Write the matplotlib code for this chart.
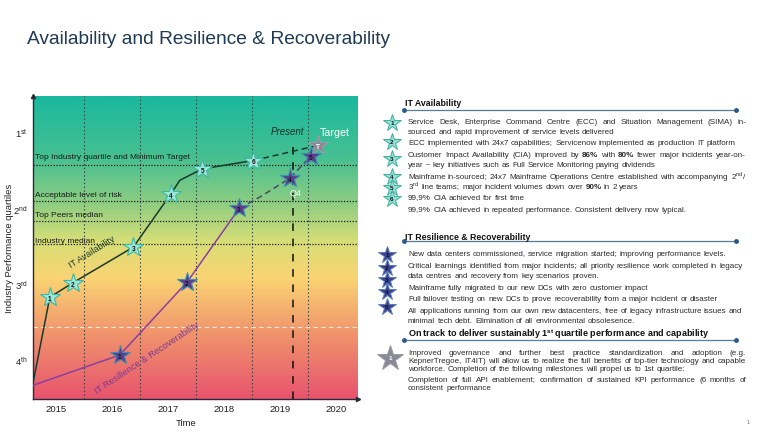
import matplotlib
matplotlib.use("Agg")
import matplotlib.pyplot as plt
import numpy as np
from matplotlib.colors import LinearSegmentedColormap
from matplotlib.backends.backend_agg import get_hinting_flag

plt.rcParams['font.family'] = ['Liberation Sans', 'DejaVu Sans']
plt.rcParams['mathtext.fontset'] = 'custom'
plt.rcParams['mathtext.rm'] = 'Liberation Sans'
plt.rcParams['mathtext.bf'] = 'Liberation Sans:bold'

W, H = 768, 432

# ---- chart data (x in years, y in quartile units: 1 = 4th ... 4 = 1st)
years = [2015, 2016, 2017, 2018, 2019, 2020]
quartile_pos = [4, 3, 2, 1]
quartile_labels = ['1$^{\\mathrm{st}}$', '2$^{\\mathrm{nd}}$', '3$^{\\mathrm{rd}}$', '4$^{\\mathrm{th}}$']
mid_year_lines = [2015.5, 2016.5, 2017.5, 2018.5, 2019.5]
present_x = 2019.23

levels = [3.58, 3.105, 2.84, 2.54]
level_labels = ['Top Industry quartile and Minimum Target', 'Acceptable level of risk',
                'Top Peers median', 'Industry median']
level_label_y = [3.68, 3.18, 2.91, 2.58]
white_line_y = 1.45

avail_path_x = [2014.59, 2014.89, 2015.30, 2016.38, 2017.05, 2017.21, 2017.61, 2018.52]
avail_path_y = [0.71, 1.84, 2.03, 2.50, 3.20, 3.38, 3.53, 3.64]
avail_dash_x = [2018.52, 2019.68]
avail_dash_y = [3.64, 3.84]
avail_star_x = [2014.89, 2015.30, 2016.38, 2017.05, 2017.61, 2018.52]
avail_star_y = [1.84, 2.03, 2.50, 3.20, 3.53, 3.64]

res_path_x = [2014.59, 2016.14, 2017.34, 2018.27]
res_path_y = [0.68, 1.08, 2.04, 3.01]
res_dash_x = [2018.27, 2018.64, 2019.18, 2019.55]
res_dash_y = [3.01, 3.16, 3.41, 3.70]
res_star_x = [2016.14, 2017.34, 2018.27, 2019.18, 2019.55]
res_star_y = [1.08, 2.04, 3.01, 3.41, 3.70]

target_x, target_y = 2019.68, 3.84

# ---- panel text (pixel rows)
avail_items = [
    [("Service Desk, Enterprise Command Centre (ECC) and Situation Management (SIMA) in-", 121, True),
     ("sourced and rapid improvement of service levels delivered", 131, False)],
    [("ECC implemented with 24x7 capabilities; Servicenow implemented as production IT platform", 142, False)],
    [("Customer Impact Availability (CIA) improved by **86%** with **80%** fewer major incidents year-on-", 154, True),
     ("year \u2013 key initiatives such as Full Service Monitoring paying dividends", 164, False)],
    [("Mainframe in-sourced; 24x7 Mainframe Operations Centre established with accompanying 2$^{\\mathrm{nd}}$/", 176, True),
     ("3$^{\\mathrm{rd}}$ line teams; major incident volumes down over **90%** in 2 years", 186, False)],
    [("99,9% CIA achieved for first time", 197, False)],
    [("99,9% CIA achieved in repeated performance. Consistent delivery now typical.", 209, False)],
]
avail_icon_y = [123, 142, 159, 177, 188, 199]

res_items = [
    [("New data centers commissioned, service migration started; improving performance levels.", 253, False)],
    [("Critical learnings identified from major incidents; all priority resilience work completed in legacy", 265, False),
     ("data centres and recovery from key scenarios proven.", 275, False)],
    [("Mainframe fully migrated to our new DCs with zero customer impact", 287, False)],
    [("Full failover testing on new DCs to prove recoverability from a major incident or disaster", 298, False)],
    [("All applications running from our own new datacenters, free of legacy infrastructure  issues and", 310, False),
     ("minimal tech debt. Elimination of all environmental obsolesence.", 320, False)],
]
res_icon_y = [255, 268, 280, 292, 307]

track_lines = [
    ("Improved governance and further best practice standardization and adoption (e.g.", 352, True),
    ("KepnerTregoe, IT4IT) will allow us to realize the full benefits of top-tier technology and capable", 360, True),
    ("workforce. Completion of the following milestones will propel us to 1st quartile:", 368, False),
    ("Completion of full API enablement; confirmation of sustained KPI performance (6 months of", 379, True),
    ("consistent performance", 387, False),
]

BODY = 5.75


def fx(px):
    return px / W


def fy(py):
    return 1 - py / H


fig = plt.figure(figsize=(W / 100, H / 100), dpi=100)
fig.patch.set_facecolor('white')
renderer = fig.canvas.get_renderer()

fig.text(fx(27), fy(40), 'Availability and Resilience & Recoverability', fontsize=13.8,
         color='#1F3A56', va='center', ha='left')

# ---- chart
ax = fig.add_axes([fx(33), fy(399), fx(358) - fx(33), fy(96) - fy(399)])
x0, x1, y0, y1 = 2014.59, 2020.39, 0.5, 4.49
ax.set_xlim(x0, x1)
ax.set_ylim(y0, y1)

stops = [(0.0, (232, 84, 110)), (0.22, (240, 150, 108)), (0.40, (250, 212, 115)),
         (0.52, (215, 222, 118)), (0.65, (140, 205, 130)), (0.80, (70, 192, 145)),
         (1.0, (26, 184, 158))]
cmap = LinearSegmentedColormap.from_list('bg', [(p, tuple(c / 255 for c in rgb)) for p, rgb in stops])
ax.imshow(np.linspace(0, 1, 300).reshape(-1, 1), cmap=cmap, origin='lower', aspect='auto',
          extent=(x0, x1, y0, y1), zorder=0)

for xv in mid_year_lines:
    ax.axvline(xv, color='#2f3f3f', lw=0.8, ls=(0, (1.2, 2.2)), zorder=1)
for yv in levels:
    ax.axhline(yv, color='#1a1a1a', lw=0.9, ls=(0, (1, 1.3)), zorder=1)
ax.axhline(white_line_y, color='white', lw=0.8, ls=(0, (4, 3)), alpha=0.8, zorder=1)
ax.plot([present_x, present_x], [y0, 3.9], color='#111111', lw=1.1, ls=(0, (5, 5)), zorder=2)

for lab, yv in zip(level_labels, level_label_y):
    ax.text(2014.625, yv, lab, fontsize=6.0, color='#1a1a1a', va='center', ha='left', zorder=3)

ax.plot(avail_path_x, avail_path_y, color='#173a2c', lw=1.1, zorder=3)
ax.plot(avail_dash_x, avail_dash_y, color='#173a2c', lw=1.1, ls=(0, (4, 2.5)), zorder=3)
ax.plot(res_path_x, res_path_y, color='#8b3fa0', lw=1.1, zorder=3)
ax.plot(res_dash_x, res_dash_y, color='#4a4a66', lw=1.1, ls=(0, (4, 2.5)), zorder=3)

ax.plot(avail_star_x, avail_star_y, ls='none', marker='*', ms=14.5, mfc='#9ee8da', mec='#3fb8a6',
        mew=0.8, zorder=4)
ax.plot(res_star_x, res_star_y, ls='none', marker='*', ms=14.5, mfc='#5a3f8e', mec='#3f8fb0',
        mew=0.8, zorder=4)
ax.plot([target_x], [target_y], ls='none', marker='*', ms=15, mfc='#8c8a98', mec='#a09cb0',
        mew=0.6, zorder=4)
for i, (xv, yv) in enumerate(zip(avail_star_x, avail_star_y)):
    ax.text(xv, yv - 0.03, str(i + 1), fontsize=4.8, fontweight='bold', color='#1a1a1a',
            ha='center', va='center', zorder=5)
for i, (xv, yv) in enumerate(zip(res_star_x, res_star_y)):
    ax.text(xv, yv - 0.03, str(i + 1), fontsize=4.8, fontweight='bold', color='#1a1a1a',
            ha='center', va='center', zorder=5)
ax.text(target_x, target_y - 0.03, 'T', fontsize=4.8, fontweight='bold', color='white',
        ha='center', va='center', zorder=5)

ax.text(2015.64, 2.43, 'IT Availability', fontsize=6.5, color='#173a2c', rotation=32,
        ha='center', va='center', zorder=3)
ax.text(2016.63, 1.04, 'IT Resilience & Recoverability', fontsize=6.7, color='#7b3a96',
        rotation=33.5, ha='center', va='center', zorder=3)
ax.text(2019.125, 4.01, 'Present', fontsize=7, style='italic', color='#17332e',
        ha='center', va='center', zorder=3)
ax.text(2019.98, 4.0, 'Target', fontsize=7.7, color='white', ha='center', va='center', zorder=3)
ax.text(2019.27, 3.2, 'Q4', fontsize=6.5, color='white', ha='center', va='center', zorder=3)

ax.set_xticks(years)
ax.set_xticklabels([str(y) for y in years], fontsize=6.8, color='#222222')
ax.set_yticks(quartile_pos)
ax.set_yticklabels(quartile_labels, fontsize=6.8, color='#222222')
ax.tick_params(length=0, pad=4)
for s in ['top', 'right']:
    ax.spines[s].set_visible(False)
for s in ['left', 'bottom']:
    ax.spines[s].set_color('#2a2a3a')
    ax.spines[s].set_linewidth(1.0)
ax.plot([0], [1], marker='^', ms=3, color='#2a2a3a', transform=ax.transAxes, clip_on=False)
ax.plot([1], [0], marker='>', ms=3, color='#2a2a3a', transform=ax.transAxes, clip_on=False)

fig.text(fx(10), fy(248), 'Industry Performance quartiles', rotation=90, fontsize=6.8,
         color='#222222', ha='center', va='center')
fig.text(fx(186), fy(423), 'Time', fontsize=6.8, color='#222222', ha='center', va='center')


# ---- right panel
def width_px(t):
    return t.get_window_extent(renderer).width


def baseline_fix(t):
    # Agg snaps the bitmap by its descent; words whose descent rounds up land 1px low
    if '$' in t.get_text():
        return 0
    try:
        font = renderer._prepare_font(t.get_fontproperties())
        font.set_text(t.get_text(), 0, flags=get_hinting_flag())
        d = font.get_descent() / 64.0
        return round(d) - np.floor(d)
    except Exception:
        return 0


probe_a = fig.text(0, 0, 'a a', fontsize=BODY)
probe_b = fig.text(0, 0, 'aa', fontsize=BODY)
space_px = width_px(probe_a) - width_px(probe_b)
probe_a.remove()
probe_b.remove()


def put_line(s, py, left, right=None, size=BODY, color='#2b2b2b'):
    objs = []
    for w in s.split():
        bold = w.startswith('**')
        objs.append(fig.text(0, 0, w.replace('**', ''), fontsize=size,
                             fontweight='bold' if bold else 'normal', color=color,
                             va='baseline', ha='left'))
    widths = [width_px(t) for t in objs]
    gap = space_px
    if right is not None and len(objs) > 1:
        gap = (right - left - sum(widths)) / (len(objs) - 1)
    base = round(py + 0.32 * size * 100 / 72)
    xp = left
    for t, w in zip(objs, widths):
        t.set_position((fx(xp), fy(base - baseline_fix(t))))
        xp += w + gap


def rule(line_py):
    fig.add_artist(plt.Line2D([fx(404), fx(736)], [fy(line_py), fy(line_py)], color='#5b7a96',
                              lw=0.9, transform=fig.transFigure))
    fig.add_artist(plt.Line2D([fx(404), fx(736)], [fy(line_py), fy(line_py)], ls='none',
                              marker='o', ms=2.5, color='#2a5a86', transform=fig.transFigure))


def heading(s, py, line_py, size=6.3):
    fig.text(fx(405), fy(py), s, fontsize=size, fontweight='bold', color='#111111',
             va='center', ha='left')
    rule(line_py)


def icon(px, py, fc, ec, label, ms=13, tc='#111111'):
    fig.add_artist(plt.Line2D([fx(px)], [fy(py)], ls='none', marker='*', ms=ms, mfc=fc, mec=ec,
                              mew=0.7, transform=fig.transFigure))
    fig.text(fx(px), fy(py + 0.5), label, fontsize=4.5, fontweight='bold', color=tc,
             ha='center', va='center')


heading('IT Availability', 103, 110)
for item in avail_items:
    for s, py, just in item:
        put_line(s, py, 408, 746 if just else None)
for i, py in enumerate(avail_icon_y):
    icon(392, py, '#8fe3d6', '#3fae9e', str(i + 1))

heading('IT Resilience & Recoverability', 237, 241)
for item in res_items:
    for s, py, just in item:
        put_line(s, py, 408, 746 if just else None)
for i, py in enumerate(res_icon_y):
    icon(387, py, '#3b4190', '#5a7fb8', str(i + 1))

fig.text(fx(408), fy(334), 'On track to deliver sustainably 1$^{\\mathbf{st}}$ quartile performance and capability',
         fontsize=6.5, fontweight='bold', color='#111111', va='center', ha='left')
rule(340)
for s, py, just in track_lines:
    put_line(s, py, 408, 746 if just else None)
icon(390, 358, '#8a8a96', '#9a9aaa', '1', ms=19, tc='white')

fig.text(fx(748), fy(423), '1', fontsize=4, color='#777777', ha='center', va='center')

fig.savefig('out.png', dpi=100)
